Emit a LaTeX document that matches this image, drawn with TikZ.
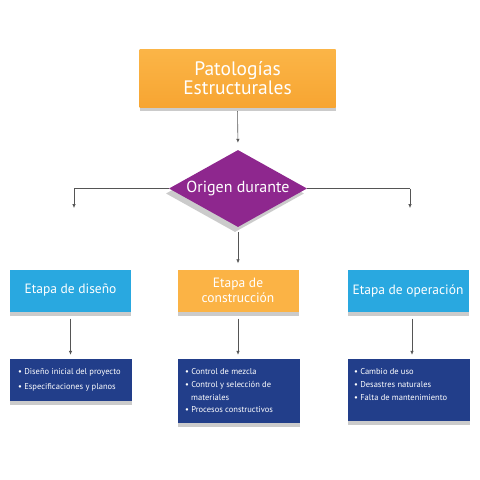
\documentclass[tikz,border=0pt]{standalone}
\usepackage{fontspec}
\setmainfont{PT Sans}
\usetikzlibrary{shapes.geometric,arrows.meta,shadows}
\definecolor{orangeA}{HTML}{F7A532}
\definecolor{orangeB}{HTML}{FBB547}
\definecolor{purp}{HTML}{8E278E}
\definecolor{skyb}{HTML}{29A8E0}
\definecolor{navy}{HTML}{223E8A}
\definecolor{linec}{HTML}{555555}
\tikzset{
  shad/.style={drop shadow={shadow xshift=0pt,shadow yshift=-4pt,fill=black!45,opacity=0.45}},
  titlebox/.style={shad,rectangle,top color=orangeB,bottom color=orangeA,draw=none,minimum width=196pt,minimum height=58pt,inner sep=0pt,text=white,align=center,font=\fontsize{19.5}{19}\selectfont},
  diabox/.style={drop shadow={shadow xshift=-3pt,shadow yshift=-5pt,fill=black!45,opacity=0.45},diamond,aspect=1.816,fill=purp,draw=none,minimum width=138pt,minimum height=77pt,inner sep=0pt,text=white,font=\fontsize{16}{16}\selectfont},
  stagebox/.style={shad,rectangle,draw=none,minimum width=121pt,minimum height=42pt,inner sep=0pt,text=white,align=center,font=\fontsize{13.5}{15}\selectfont},
  listbox/.style={shad,rectangle,fill=navy,draw=none,minimum width=122pt,inner sep=0pt,text=white},
  conn/.style={draw=linec,line width=0.6pt,-{Latex[length=4pt,width=3.5pt]}},
  plain/.style={draw=linec,line width=0.6pt}
}
\begin{document}
\begin{tikzpicture}[x=1pt,y=-1pt]
\useasboundingbox[fill=white] (0,0) rectangle (480,480);
\node[titlebox] (top) at (237.5,78) {Patologías\\Estructurales};
\node[diabox] (dia) at (238,188.5) {\makebox[0pt]{Origen durante}};
\node[stagebox,fill=skyb] (s1) at (70.5,290.5) {Etapa de diseño};
\node[stagebox,fill=orangeB!90!orangeA] (s2) at (238,290.5) {Etapa de\\construcción};
\node[stagebox,fill=skyb] (s3) at (408,290.5) {Etapa de operación};
\node[listbox,minimum height=42pt] (l1) at (70.5,380) {};
\node[listbox,minimum height=64pt] (l2) at (239,391) {};
\node[listbox,minimum height=62pt] (l3) at (408.5,390) {};
\begin{scope}[font=\fontsize{8.5}{12.7}\selectfont,text=white]
\node[anchor=north west,inner sep=0pt,align=left] (t1) at (18,368.5) {• Diseño inicial del proyecto\\[2.3pt]• Especificaciones y planos};
\node[anchor=north west,inner sep=0pt,align=left] (t2) at (185,368.5) {• Control de mezcla\\• Control y selección de\\\hspace{6pt}materiales\\• Procesos constructivos};
\node[anchor=north west,inner sep=0pt,align=left] (t3) at (354,368.5) {• Cambio de uso\\• Desastres naturales\\• Falta de mantenimiento};
\end{scope}
\coordinate (cl) at (74,188.5);
\coordinate (cr) at (410,188.5);
\coordinate (al) at (74,208);
\coordinate (ar) at (410,208);
\draw[conn,shorten <=4pt,shorten >=7pt] (top.south) -- (dia.north);
\draw[plain] (dia.west) -- (cl);
\draw[plain] (dia.east) -- (cr);
\draw[conn] (cl) -- (al);
\draw[conn] (cr) -- (ar);
\draw[conn,shorten <=5pt,shorten >=6pt] (dia.south) -- (dia.south |- s2.north);
\draw[conn,shorten <=7pt,shorten >=4pt] (s1.south) -- (s1.south |- l1.north);
\draw[conn,shorten <=7pt,shorten >=4pt] (s2.south) -- (s2.south |- l2.north);
\draw[conn,shorten <=7pt,shorten >=4pt] ([xshift=4pt]s3.south) -- ([xshift=4pt]s3.south |- l3.north);
\end{tikzpicture}
\end{document}
